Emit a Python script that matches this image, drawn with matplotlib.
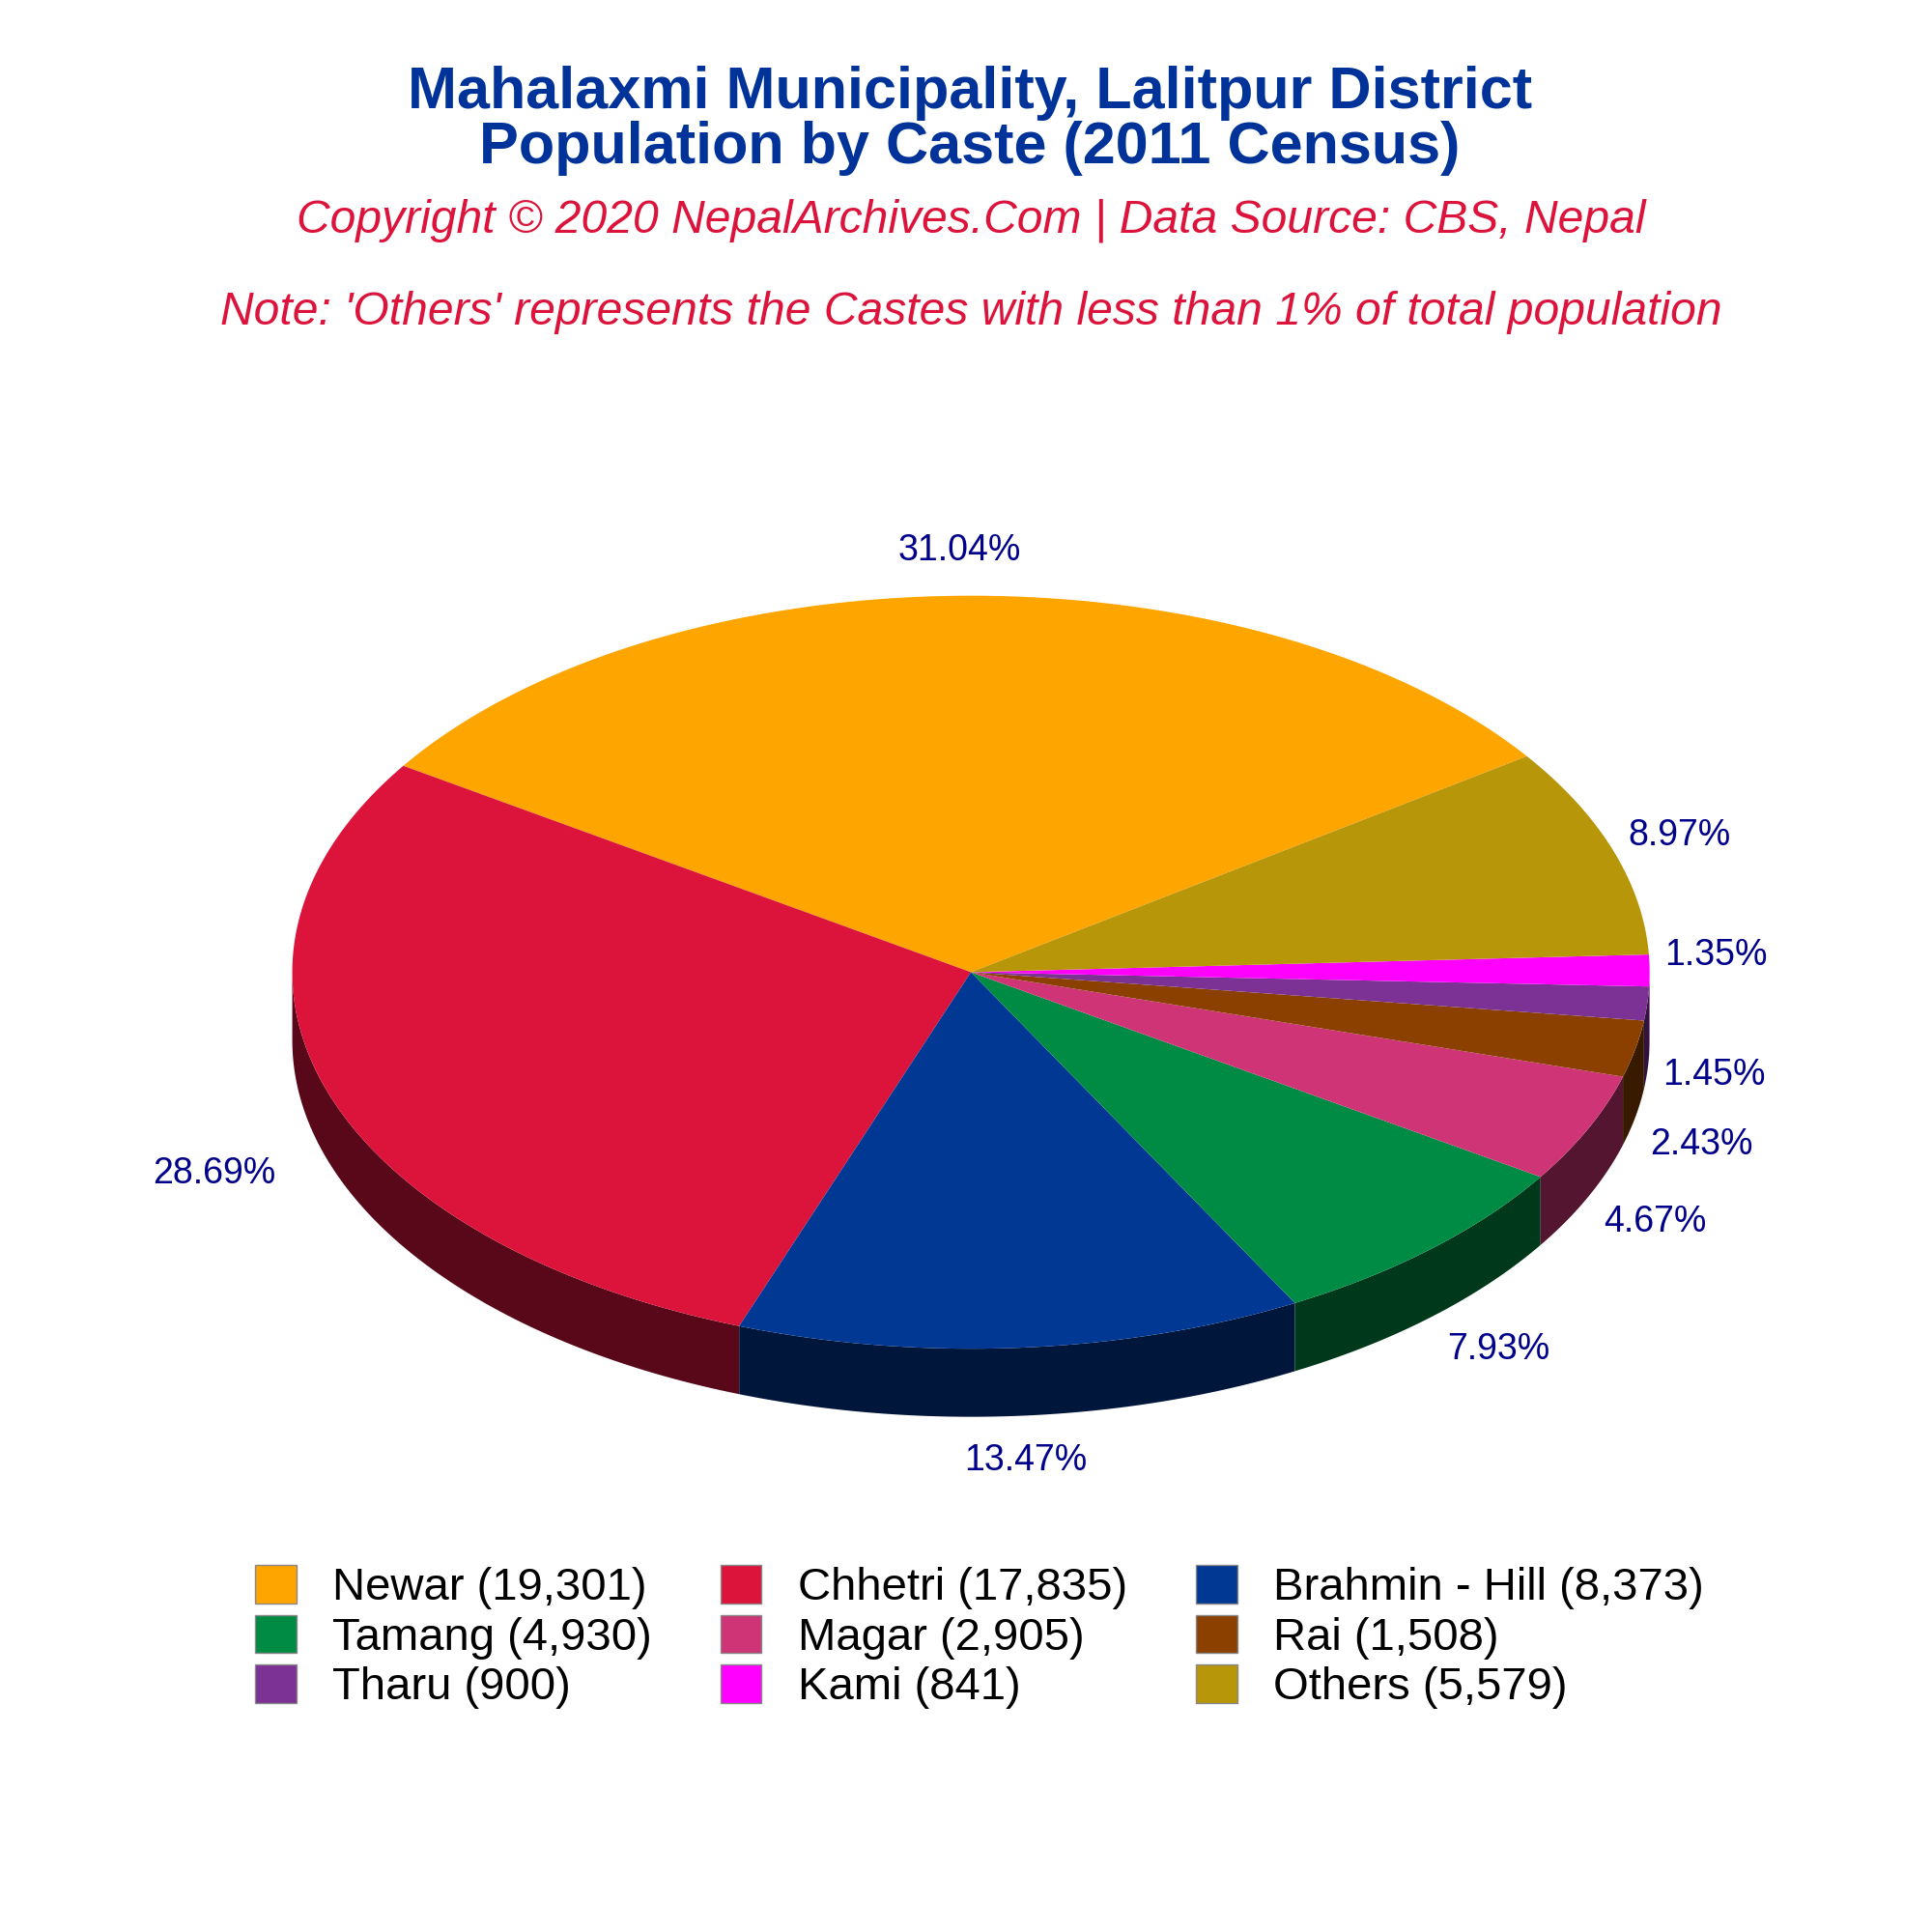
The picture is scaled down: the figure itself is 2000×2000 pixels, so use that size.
import numpy as np
import matplotlib.pyplot as plt
from matplotlib.patches import Polygon, Patch
import matplotlib.colors as mcolors

plt.rcParams['font.family'] = ['Liberation Sans', 'DejaVu Sans']

castes = ['Newar', 'Chhetri', 'Brahmin - Hill', 'Tamang', 'Magar', 'Rai', 'Tharu', 'Kami', 'Others']
population = [19301, 17835, 8373, 4930, 2905, 1508, 900, 841, 5579]
colors = ['#FFA500', '#DC143C', '#003893', '#008B45', '#CF3476', '#8B4000', '#7B3294', '#FF00FF', '#B8960A']

# layout in reference pixel units (1560 wide canvas)
W = 1560
cx, cy, rx, ry, depth = 784, 785, 548, 304, 55
start = 35.0

fig = plt.figure(figsize=(10, 10), dpi=200)
ax = fig.add_axes([0, 0, 1, 1])
ax.set_xlim(0, W)
ax.set_ylim(W, 0)
ax.axis('off')

total = sum(population)
fracs = [p / total for p in population]
bounds = start + 360 * np.concatenate([[0], np.cumsum(fracs)])


def pt(t, dy=0):
    r = np.radians(t)
    return cx + rx * np.cos(r), cy - ry * np.sin(r) + dy


# side walls
for i, c in enumerate(colors):
    a, b = max(bounds[i], 180), min(bounds[i + 1], 360)
    if b <= a:
        continue
    ts = np.linspace(a, b, 80)
    top = [pt(t) for t in ts]
    bot = [pt(t, depth) for t in ts[::-1]]
    dark = tuple(np.array(mcolors.to_rgb(c)) * 0.4)
    ax.add_patch(Polygon(top + bot, closed=True, fc=dark, ec='none', zorder=1))

# top faces
for i, c in enumerate(colors):
    ts = np.linspace(bounds[i], bounds[i + 1], 200)
    verts = [(cx, cy)] + [pt(t) for t in ts]
    ax.add_patch(Polygon(verts, closed=True, fc=c, ec='none', zorder=2))

# percentage labels
nudge = {5: 15, 6: 0, 7: -12, 4: 5}
for i, f in enumerate(fracs):
    mid = (bounds[i] + bounds[i + 1]) / 2
    r = np.radians(mid)
    x = cx + rx * 1.08 * np.cos(r)
    y = cy - ry * 1.12 * np.sin(r) + (depth if np.sin(r) < 0 else 0)
    ha = 'center'
    if np.cos(r) > 0.3:
        ha = 'left'
        x = cx + rx * np.cos(r) + 12
    elif np.cos(r) < -0.3:
        ha = 'right'
    y += nudge.get(i, 0)
    ax.text(x, y, f'{f * 100:.2f}%', ha=ha, va='center', fontsize=13.5, color='#00008B', zorder=3)

ax.text(W / 2 + 3, 75, 'Mahalaxmi Municipality, Lalitpur District', ha='center', va='center',
        fontsize=22, fontweight='bold', color='#003399')
ax.text(W / 2 + 3, 120, 'Population by Caste (2011 Census)', ha='center', va='center',
        fontsize=22, fontweight='bold', color='#003399')
ax.text(W / 2 + 4, 178, 'Copyright © 2020 NepalArchives.Com | Data Source: CBS, Nepal', ha='center',
        va='center', fontsize=17.3, style='italic', color='#DC143C')
ax.text(W / 2 + 4, 252, "Note: 'Others' represents the Castes with less than 1% of total population",
        ha='center', va='center', fontsize=17.3, style='italic', color='#DC143C')

handles = [Patch(fc=c, ec='#888888', lw=0.5, label=f'{n} ({p:,})') for n, p, c in zip(castes, population, colors)]
order = [0, 3, 6, 1, 4, 7, 2, 5, 8]
fig.legend([handles[k] for k in order], [handles[k].get_label() for k in order],
           loc='center', bbox_to_anchor=(0.5 + 11 / W, 1 - 1322 / W), ncol=3, frameon=False,
           fontsize=17, handlelength=0.9, handleheight=0.9, columnspacing=1.5,
           labelspacing=0.12, handletextpad=0.8)

fig.savefig('out.png', dpi=200, facecolor='white')
